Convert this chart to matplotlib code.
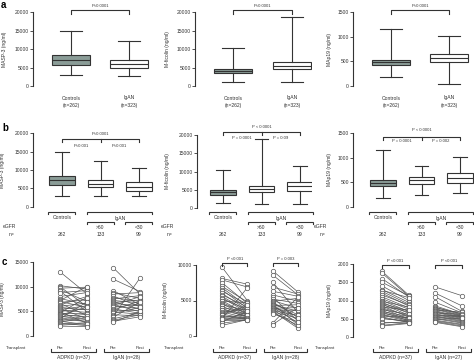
import numpy as np
import matplotlib
matplotlib.use("Agg")
import matplotlib.pyplot as plt

plt.rcParams['font.family'] = ['Liberation Sans', 'DejaVu Sans']

# ---------------- data ----------------
# box stats: [whisker_low, q1, median, q3, whisker_high]
a_masp3 = [[3000, 5700, 7000, 8400, 15000], [2800, 4800, 5900, 7000, 12200]]
a_mfic = [[1200, 3600, 4100, 4600, 10400], [1000, 4500, 5500, 6600, 18700]]
a_map19 = [[190, 428, 482, 529, 1154], [34, 482, 563, 645, 1005]]
a_cats = ["Controls", "IgAN"]
a_ns = ["(n=262)", "(n=323)"]
a_p = ["P<0.0001", "P<0.0001", "P<0.0001"]

b_masp3 = [[3100, 5900, 7200, 8500, 15000], [2900, 5400, 6300, 7400, 12300], [2900, 4400, 5300, 6700, 10500]]
b_mfic = [[1400, 3600, 4300, 4800, 10500], [1200, 4500, 5300, 6100, 18800], [1200, 4700, 5900, 7100, 11400]]
b_map19 = [[184, 423, 491, 545, 1159], [252, 464, 545, 614, 832], [286, 477, 593, 682, 1009]]
b_egfr = ["", ">60", "<30"]
b_ns = ["262", "133", "99"]
b_p_main = ["P<0.0001", "P < 0.0001", "P < 0.0001"]
b_p_left = ["P<0.001", "P = 0.0001", "P = 0.0001"]
b_p_right = ["P<0.001", "P = 0.09", "P = 0.002"]

c1_adpkd_pre = [13000, 10200, 10000, 9700, 9400, 9100, 8800, 8000, 7600, 7200, 7000, 6800, 6600,
                6300, 6000, 5800, 5600, 5400, 5200, 5000, 4900, 4700, 4500, 4400, 4200, 4000, 3900,
                3700, 3500, 3300, 3100, 3000, 2800, 2600, 2400, 2200, 2000]
c1_adpkd_post = [8600, 9500, 6000, 9900, 7000, 5000, 9200, 8800, 6400, 10000, 5800, 7400, 4200,
                 8000, 6700, 5300, 3500, 6100, 4800, 5500, 2600, 7800, 4600, 3800, 5900, 3300, 4400,
                 2900, 6900, 3000, 4100, 2300, 3700, 2100, 2700, 2500, 1900]
c1_igan_pre = [13800, 11500, 9200, 8800, 8500, 8100, 7800, 7500, 7200, 7000, 6800, 6600, 6400, 6200,
               6000, 5800, 5500, 5300, 5100, 4900, 4600, 4300, 4000, 3800, 3500, 3200, 3000, 2800]
c1_igan_post = [8500, 9000, 6300, 7600, 8800, 5900, 7000, 8200, 6700, 5400, 7300, 6100, 4900, 8000,
                5600, 6500, 4600, 7100, 5200, 4400, 5800, 4100, 11800, 6900, 4700, 4300, 3900, 5000]

c2_adpkd_pre = [9700, 8100, 7900, 7500, 7000, 6800, 6500, 6300, 6000, 5800, 5600, 5400, 5200, 5000,
                4900, 4700, 4500, 4400, 4200, 4000, 3900, 3700, 3600, 3400, 3300, 3100, 3000, 2900,
                2700, 2600, 2500, 2300, 2200, 2000, 1800, 2400, 1500]
c2_adpkd_post = [5000, 7300, 6900, 4600, 4800, 4200, 3900, 4500, 3700, 4100, 3500, 3300, 3800, 3000,
                 4700, 3200, 2900, 3600, 2700, 3400, 2600, 3100, 2800, 2500, 3900, 2400, 4300, 2300,
                 2600, 3000, 2500, 2400, 2200, 3500, 2300, 6800, 2300]
c2_igan_pre = [9200, 8600, 7600, 6900, 6300, 5800, 5500, 5200, 5000, 4900, 4800, 4600, 4500, 4400,
               4300, 4200, 4100, 4000, 3900, 3800, 3700, 3600, 3500, 3400, 3300, 1800, 1600, 3100]
c2_igan_post = [6200, 5800, 3300, 5900, 5600, 4900, 2100, 4600, 3900, 5300, 2600, 3000, 1600, 3500,
                4400, 2300, 2800, 1900, 4000, 1300, 3600, 2900, 1100, 2500, 1500, 5500, 4000, 2000]

c3_adpkd_pre = [1800, 1750, 1600, 1500, 1400, 1300, 1280, 1250, 1200, 1150, 1100, 1050, 1000, 980,
                950, 920, 900, 880, 850, 820, 800, 780, 750, 720, 700, 680, 650, 620, 600, 580, 550,
                520, 500, 400, 380, 320, 300]
c3_adpkd_post = [1150, 1120, 1100, 1130, 1000, 950, 1080, 900, 850, 880, 800, 760, 700, 820, 650,
                 720, 600, 680, 550, 740, 580, 500, 620, 480, 560, 450, 520, 460, 430, 530, 400, 410,
                 440, 380, 420, 390, 370]
c3_igan_pre = [1370, 1200, 1100, 950, 850, 820, 800, 780, 760, 740, 720, 700, 680, 660, 640, 620,
               600, 580, 560, 540, 520, 500, 480, 460, 440, 420, 400]
c3_igan_post = [1130, 850, 700, 660, 620, 600, 640, 580, 560, 680, 540, 520, 500, 620, 480, 460, 600,
                440, 420, 560, 400, 380, 520, 350, 330, 300, 280]
c_groups = [["ADPKD (n=37)", "IgAN (n=28)"], ["ADPKD (n=37)", "IgAN (n=28)"], ["ADPKD (n=37)", "IgAN (n=27)"]]
c_p = [None, ["P <0.001", "P = 0.003"], ["P <0.001", "P <0.001"]]

# ---------------- layout helpers ----------------
W, H = 474, 360
fig = plt.figure(figsize=(W / 100, H / 100), dpi=100)
INK = '#333333'
FILL = '#8a9c97'
FS = 3.6
PFS = 3.0


def make_ax(left, right, ytop, ybot, ymax, p0, unit, ticks, ylabel, ylab_px):
    ax = fig.add_axes([left / W, 1 - ybot / H, (right - left) / W, (ybot - ytop) / H])
    ax.set_xlim((left - p0) / unit, (right - p0) / unit)
    ax.set_ylim(0, ymax)
    ax.patch.set_alpha(0)
    for s in ['top', 'right', 'bottom']:
        ax.spines[s].set_visible(False)
    ax.spines['left'].set_color(INK)
    ax.spines['left'].set_linewidth(0.8)
    ax.set_xticks([])
    ax.set_yticks(ticks)
    ax.set_yticklabels([str(t) for t in ticks])
    ax.tick_params(axis='y', length=2, width=0.6, color=INK, labelsize=FS, pad=1, labelcolor=INK)
    ax.set_ylabel(ylabel, fontsize=FS, color=INK)
    ax.yaxis.set_label_coords((ylab_px - left) / (right - left), 0.5)
    ax._geom = (ytop, ybot)
    return ax


def yf(ax, ypx):
    ytop, ybot = ax._geom
    return (ybot - ypx) / (ybot - ytop)


def tx(ax, x, ypx, s, fs=FS, **kw):
    ax.text(x, yf(ax, ypx), s, transform=ax.get_xaxis_transform(), ha='center', va='center',
            fontsize=fs, color=INK, clip_on=False, **kw)


def bracket(ax, x0, x1, ypx, up=True, tick=2.5):
    y = yf(ax, ypx)
    d = tick / (ax._geom[1] - ax._geom[0])
    y2 = y + d if up else y - d
    ax.plot([x0, x0, x1, x1], [y2, y, y, y2], transform=ax.get_xaxis_transform(),
            color=INK, lw=0.8, clip_on=False, solid_joinstyle='miter')


def boxes(ax, stats, fills, width, capw):
    for i, (st, fc) in enumerate(zip(stats, fills)):
        d = dict(whislo=st[0], q1=st[1], med=st[2], q3=st[3], whishi=st[4], fliers=[])
        ax.bxp([d], positions=[i], widths=width, patch_artist=True, showfliers=False,
               manage_ticks=False, capwidths=capw,
               boxprops=dict(facecolor=fc, edgecolor=INK, linewidth=0.8),
               medianprops=dict(color=INK, linewidth=0.8),
               whiskerprops=dict(color=INK, linewidth=0.8),
               capprops=dict(color=INK, linewidth=0.8))


def pbar(ax, x0, x1, y, drop, text, ytext, mid=None):
    xs = [x0, x0, x1, x1]
    ys = [y - drop, y, y, y - drop]
    ax.plot(xs, ys, color=INK, lw=0.8, clip_on=False)
    if mid is not None:
        ax.plot([mid, mid], [y, y - drop], color=INK, lw=0.8, clip_on=False)
    ax.text((x0 + x1) / 2, ytext, text, ha='center', va='center', fontsize=PFS, color=INK,
            clip_on=False)


# ---------------- row a ----------------
a_specs = [
    (33, 155, 12, 86, 20000, 71, 58, [0, 5000, 10000, 15000, 20000], "MASP-3 (ng/ml)", 7, a_masp3),
    (195, 312, 12, 86, 20000, 233, 59, [0, 5000, 10000, 15000, 20000], "M-ficolin (ng/ml)", 170, a_mfic),
    (353, 474, 12, 86, 1500, 391, 58, [0, 500, 1000, 1500], "MAp19 (ng/ml)", 332, a_map19),
]
for k, (l, r, yt, yb, ym, p0, u, tk, lab, lp, st) in enumerate(a_specs):
    ax = make_ax(l, r, yt, yb, ym, p0, u, tk, lab, lp)
    boxes(ax, st, [FILL, 'white'], 0.65, 0.37)
    s = ym / (yb - yt)
    pbar(ax, 0, 1, ym + 2 * s, 4 * s, a_p[k], ym + 6 * s)
    for i in range(2):
        tx(ax, i, 98, a_cats[i])
        tx(ax, i, 105, a_ns[i])

# ---------------- row b ----------------
b_specs = [
    (33, 155, 133, 207, 20000, 62, 38.5, [0, 5000, 10000, 15000, 20000], "MASP-3 (ng/ml)", 5, b_masp3,
     (18400, 19700, 16500), 12),
    (197, 312, 135, 208, 20000, 223, 38.5, [0, 5000, 10000, 15000, 20000], "M-ficolin (ng/ml)", 170, b_mfic,
     (20800, 22100, 19300), 170),
    (353, 474, 133, 207, 1500, 383, 38.5, [0, 500, 1000, 1500], "MAp19 (ng/ml)", 332, b_map19,
     (1420, 1560, 1340), 323),
]
for k, (l, r, yt, yb, ym, p0, u, tk, lab, lp, st, py, npx) in enumerate(b_specs):
    ax = make_ax(l, r, yt, yb, ym, p0, u, tk, lab, lp)
    boxes(ax, st, [FILL, 'white', 'white'], 0.65, 0.34)
    s = ym / (yb - yt)
    pbar(ax, 0, 2, py[0], 3 * s, b_p_main[k], py[1], mid=1)
    ax.text(0.5, py[2], b_p_left[k], ha='center', va='center', fontsize=PFS, color=INK, clip_on=False)
    ax.text(1.5, py[2], b_p_right[k], ha='center', va='center', fontsize=PFS, color=INK, clip_on=False)
    bracket(ax, -0.36, 0.34, 212, up=False)
    tx(ax, 0, 218, a_cats[0])
    bracket(ax, 0.64, 2.34, 212, up=False)
    tx(ax, 1.5, 219, "IgAN")
    bracket(ax, 0.64, 1.34, 222, up=False)
    bracket(ax, 1.64, 2.34, 222, up=False)
    tx(ax, 1, 228, b_egfr[1])
    tx(ax, 2, 228, b_egfr[2])
    for i in range(3):
        tx(ax, i, 235, b_ns[i])
    fig.text((npx - 3) / W, 1 - 227 / H, "eGFR", fontsize=FS, color=INK, ha='center', va='center')
    fig.text(npx / W, 1 - 235 / H, "n=", fontsize=FS, color=INK, ha='center', va='center')

# ---------------- row c ----------------
c_specs = [
    (33, 155, 262, 336, 15000, 60, 26.7, [0, 5000, 10000, 15000], "MASP3 (ng/ml)", 5,
     (c1_adpkd_pre, c1_adpkd_post, c1_igan_pre, c1_igan_post), 16, None),
    (196, 312, 265, 336, 10000, 222, 25.3, [0, 5000, 10000], "M-ficolin (ng/ml)", 168,
     (c2_adpkd_pre, c2_adpkd_post, c2_igan_pre, c2_igan_post), 174, (10280, 10850)),
    (353, 474, 264, 337, 2000, 382, 26.7, [0, 500, 1000, 1500, 2000], "MAp19 (ng/ml)", 332,
     (c3_adpkd_pre, c3_adpkd_post, c3_igan_pre, c3_igan_post), 325, (1973, 2085)),
]
for k, (l, r, yt, yb, ym, p0, u, tk, lab, lp, dat, trx, pp) in enumerate(c_specs):
    ax = make_ax(l, r, yt, yb, ym, p0, u, tk, lab, lp)
    for g in range(2):
        pre = np.asarray(dat[2 * g], float)
        post = np.asarray(dat[2 * g + 1], float)
        n = len(pre)
        xs = np.vstack([np.full(n, 2 * g), np.full(n, 2 * g + 1)])
        ax.plot(xs, np.vstack([pre, post]), color='#555555', lw=0.5, marker='o', ms=3.2,
                mfc='white', mec='#555555', mew=0.5, clip_on=False)
        bracket(ax, 2 * g - 0.35, 2 * g + 1.35, 352, up=True, tick=3)
        tx(ax, 2 * g, 348, "Pre", fs=3.2)
        tx(ax, 2 * g + 1, 348, "Post", fs=3.2)
        tx(ax, 2 * g + 0.5, 358, c_groups[k][g])
        if pp is not None:
            s = ym / (yb - yt)
            pbar(ax, 2 * g, 2 * g + 1, pp[0], 3 * s, c_p[k][g], pp[1])
    fig.text(trx / W, 1 - 348 / H, "Transplant", fontsize=3.2, color=INK, ha='center', va='center')

# panel letters
fig.text(1 / W, 1 - 5 / H, "a", fontsize=7, fontweight='bold', ha='left', va='center')
fig.text(2 / W, 1 - 128 / H, "b", fontsize=7, fontweight='bold', ha='left', va='center')
fig.text(2 / W, 1 - 262 / H, "c", fontsize=7, fontweight='bold', ha='left', va='center')

fig.savefig("out.png", dpi=100)
